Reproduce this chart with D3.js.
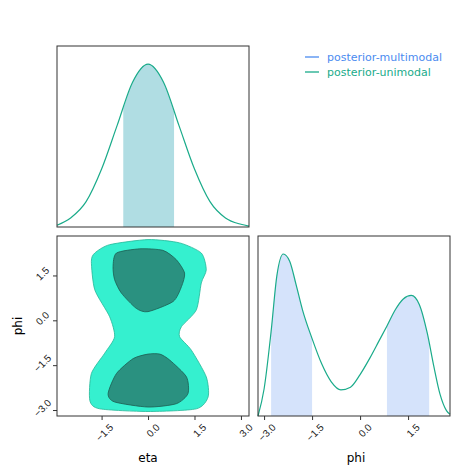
<!DOCTYPE html>
<html><head><meta charset="utf-8">
<script src="https://cdn.jsdelivr.net/npm/d3@7"></script>
<style>body{margin:0;background:#fff}svg{font-family:"DejaVu Sans",sans-serif}</style>
</head><body>
<svg id="c" width="474" height="474"></svg>
<script>
// marginal density of eta (relative height)
const etaX = [-2.94, -2.5, -2.0, -1.5, -1.0, -0.5, 0.0, 0.5, 1.0, 1.5, 2.0, 2.5, 3.0, 3.26];
const etaY = [0.01, 0.05, 0.14, 0.32, 0.56, 0.8, 0.9, 0.8, 0.56, 0.32, 0.14, 0.05, 0.015, 0.005];
const etaBand = [-0.8, 0.84];

// marginal density of phi
const phiX = [-3.19, -3.0, -2.78, -2.6, -2.4, -2.2, -2.0, -1.8, -1.5, -1.2, -0.9, -0.6, -0.3, 0.0, 0.3, 0.6, 0.84, 1.1, 1.35, 1.6, 1.85, 2.1, 2.3, 2.5, 2.7, 2.81];
const phiY = [0.0, 0.15, 0.47, 0.78, 0.9, 0.86, 0.73, 0.59, 0.43, 0.29, 0.19, 0.145, 0.16, 0.23, 0.32, 0.42, 0.5, 0.59, 0.65, 0.67, 0.62, 0.46, 0.28, 0.12, 0.03, 0.01];
const phiBands = [[-2.78, -1.5], [0.84, 2.16]];

// 2D contours [eta, phi]
const outer = [[-1.83,1.97],[-1.72,1.02],[-1.24,0.12],[-1.08,-0.55],[-1.4,-1.1],[-1.83,-1.78],[-1.88,-2.68],[-1.56,-2.96],[0,-3.05],[1.56,-2.96],[1.94,-2.56],[1.88,-1.89],[1.4,-1.0],[1.02,-0.55],[1.08,-0.21],[1.56,0.35],[1.72,1.25],[1.88,1.69],[1.72,2.25],[1.02,2.59],[0,2.7],[-1.24,2.53],[-1.72,2.25]];
const innerTop = [[-1.13,1.8],[-1.02,2.25],[-0.27,2.39],[0.48,2.34],[0.91,2.03],[1.18,1.58],[1.08,1.13],[0.81,0.63],[0,0.29],[-0.38,0.4],[-0.86,0.91],[-1.08,1.36]];
const innerBottom = [[0,-1.13],[-0.48,-1.28],[-1.02,-1.78],[-1.29,-2.45],[-1.08,-2.73],[0,-2.9],[0.91,-2.79],[1.29,-2.45],[1.24,-1.89],[0.7,-1.33],[0.38,-1.13]];

const etaTicks = [-1.5, 0, 1.5, 3.0];
const phiTicks = [-3.0, -1.5, 0, 1.5];
const series = ["posterior-multimodal", "posterior-unimodal"];
const colors = ["#4b8bf0", "#1aab8a"];

const svg = d3.select("#c");
const line = "#1aab8a";

const xEta = d3.scaleLinear().domain([-2.94, 3.26]).range([57, 249]);
const yPhi = d3.scaleLinear().domain([-3.2, 2.82]).range([416, 236]);
const xPhi = d3.scaleLinear().domain([-3.19, 2.81]).range([258, 450]);
const yTop = d3.scaleLinear().domain([0, 1]).range([227, 46]);
const yBR = d3.scaleLinear().domain([0, 1]).range([416, 236]);

const fmt = d => d.toFixed(1).replace("-", "\u2212");

// top-left: eta marginal
function marginal(g, xs, ys, xsc, ysc, bands, fill) {
  const pts = xs.map((x, i) => [x, ys[i]]);
  const interp = x => {
    let i = d3.bisectRight(xs, x) - 1;
    i = Math.max(0, Math.min(xs.length - 2, i));
    const t = (x - xs[i]) / (xs[i + 1] - xs[i]);
    return ys[i] + t * (ys[i + 1] - ys[i]);
  };
  bands.forEach(b => {
    const inside = pts.filter(p => p[0] > b[0] && p[0] < b[1]);
    const bp = [[b[0], interp(b[0])], ...inside, [b[1], interp(b[1])]];
    g.append("path").attr("fill", fill)
      .attr("d", d3.area().curve(d3.curveMonotoneX).x(p => xsc(p[0])).y0(ysc(0)).y1(p => ysc(p[1]))(bp));
  });
  g.append("path").attr("fill", "none").attr("stroke", line).attr("stroke-width", 1.2)
    .attr("d", d3.line().curve(d3.curveMonotoneX).x(p => xsc(p[0])).y(p => ysc(p[1]))(pts));
}
marginal(svg.append("g"), etaX, etaY, xEta, yTop, [etaBand], "#b0dde3");
marginal(svg.append("g"), phiX, phiY, xPhi, yBR, phiBands, "#d5e3fb");

// bottom-left: contours
const cl = d3.line().curve(d3.curveCardinalClosed.tension(0.3)).x(p => xEta(p[0])).y(p => yPhi(p[1]));
svg.append("path").attr("d", cl(outer)).attr("fill", "#35f0cf").attr("stroke", "#22b898").attr("stroke-width", 0.8);
[innerTop, innerBottom].forEach(c =>
  svg.append("path").attr("d", cl(c)).attr("fill", "#2a9180").attr("stroke", "#1c5e52").attr("stroke-width", 0.8));

// frames
[[57, 46, 192, 181], [57, 236, 192, 180], [258, 236, 192, 180]].forEach(r =>
  svg.append("rect").attr("x", r[0]).attr("y", r[1]).attr("width", r[2]).attr("height", r[3])
    .attr("fill", "none").attr("stroke", "#333").attr("stroke-width", 1));

// axes
function rotX(sel) {
  sel.selectAll("path").remove();
  sel.selectAll("line").attr("stroke", "#333");
  sel.selectAll("text").attr("font-size", 10).attr("fill", "#222")
    .attr("text-anchor", "end").attr("transform", "translate(2,2) rotate(-45)");
}
svg.append("g").attr("transform", "translate(0,416)")
  .call(d3.axisBottom(xEta).tickValues(etaTicks).tickFormat(fmt).tickSize(4)).call(rotX);
svg.append("g").attr("transform", "translate(0,416)")
  .call(d3.axisBottom(xPhi).tickValues(phiTicks).tickFormat(fmt).tickSize(4)).call(rotX);
svg.append("g").attr("transform", "translate(57,0)")
  .call(d3.axisLeft(yPhi).tickValues(phiTicks).tickFormat(fmt).tickSize(4))
  .call(sel => {
    sel.selectAll("path").remove();
    sel.selectAll("line").attr("stroke", "#333");
    sel.selectAll("text").attr("font-size", 10).attr("fill", "#222").attr("text-anchor", "middle")
      .attr("dy", 0).attr("transform", function () {
        const y = +d3.select(this.parentNode).attr("transform").match(/,([-\d.]+)/)[1];
        return "translate(-12,0) rotate(-45)";
      }).attr("x", 0).attr("y", 0);
  });

svg.append("text").attr("x", 148).attr("y", 462).attr("text-anchor", "middle").attr("font-size", 12).text("eta");
svg.append("text").attr("x", 356).attr("y", 462).attr("text-anchor", "middle").attr("font-size", 12).text("phi");
svg.append("text").attr("transform", "translate(22,326) rotate(-90)").attr("text-anchor", "middle").attr("font-size", 12).text("phi");

// legend
series.forEach((s, i) => {
  const y = 57 + i * 15;
  svg.append("line").attr("x1", 305).attr("x2", 319).attr("y1", y).attr("y2", y).attr("stroke", colors[i]).attr("stroke-width", 1.3);
  svg.append("text").attr("x", 327).attr("y", y + 4).attr("font-size", 11).attr("fill", colors[i]).text(s);
});
</script>
</body></html>
